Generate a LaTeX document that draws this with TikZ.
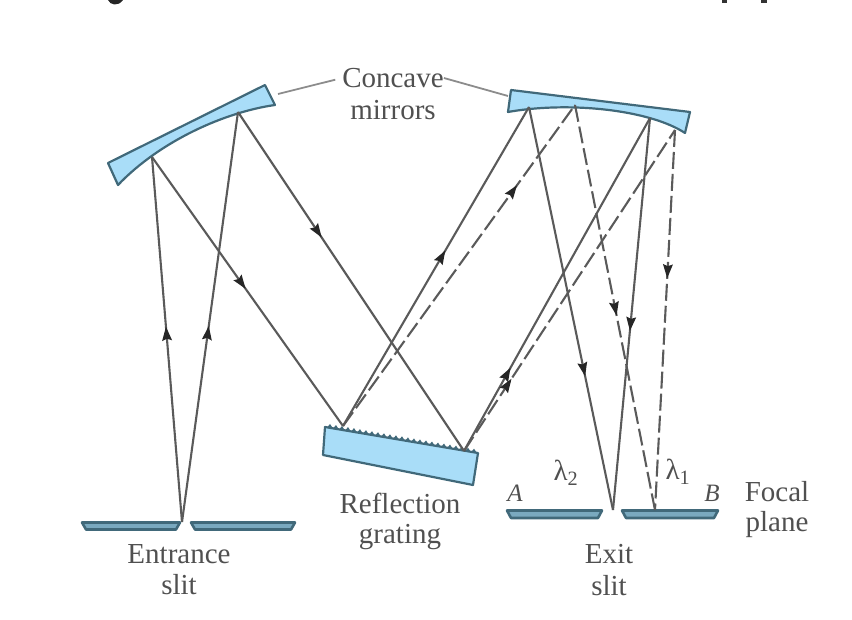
\documentclass[tikz,border=0pt]{standalone}
\usepackage{fontspec}
\setmainfont{Liberation Serif}
\usetikzlibrary{arrows.meta,decorations.markings}
\definecolor{mfill}{HTML}{A9DDF8}
\definecolor{mline}{HTML}{41697A}
\definecolor{ray}{HTML}{5A5A5A}
\definecolor{lab}{HTML}{505050}
\tikzset{
 x=1pt,y=-1pt,
 optic/.style={draw=mline,fill=mfill,line width=2.2pt,line join=round},
 slitbar/.style={draw=mline,fill=mfill!55!mline,line width=2.6pt,line join=round},
 beam/.style={draw=ray,line width=2.1pt},
 dbeam/.style={beam,dash pattern=on 17pt off 5pt},
 tip/.style={postaction={decorate},decoration={markings,mark=at position #1 with {\arrow[black!85,line width=0pt]{Stealth[length=14pt,width=10pt,inset=2pt]}}}},
 leader/.style={draw=black!45,line width=1.8pt},
 lbl/.style={text=lab,font=\fontsize{29}{32}\selectfont,inner sep=0pt,anchor=center},
 sym/.style={text=lab,font=\fontsize{25}{28}\selectfont\itshape,inner sep=0pt,anchor=center},
}
\begin{document}
\begin{tikzpicture}
\useasboundingbox (0,0) rectangle (852,620);
% heading fragments cut off at the top edge
\fill[black!85] (108,0) .. controls (110,5) and (118,7) .. (123,0) -- cycle;
\fill[black!80] (722,0) rectangle (727,3);
\fill[black!80] (761,0) rectangle (767,3);
% optics
\draw[optic] (108,163) -- (265,85) -- (275,105) .. controls (225,112) and (160,141) .. (118,185) -- cycle;
\draw[optic] (511,90) -- (690,112) -- (685,133) .. controls (650,110) and (570,101) .. (508,112) -- cycle;
\draw[optic] (325,427) -- (478,453) -- (473,485) -- (323,455) -- cycle;
\foreach \i in {0,...,24}{
  \pgfmathsetmacro\xa{327+\i*6}
  \pgfmathsetmacro\ya{427.5+\i*1.03}
  \fill[mline] (\xa,\ya) -- (\xa+3,\ya-3.5) -- (\xa+6,\ya+1) -- cycle;
}
\draw[slitbar] (82,522.5) -- (180,522.5) -- (176,529.5) -- (86,529.5) -- cycle;
\draw[slitbar] (191,522.5) -- (295,522.5) -- (291,529.5) -- (195,529.5) -- cycle;
\draw[slitbar] (507,510.5) -- (602,510.5) -- (598,518) -- (511,518) -- cycle;
\draw[slitbar] (622,510.5) -- (718,510.5) -- (714,518) -- (626,518) -- cycle;
% ray end points
\coordinate (ent) at (182,522);
\coordinate (m1a) at (152,157);
\coordinate (m1b) at (238,112);
\coordinate (g1) at (343,426);
\coordinate (g2) at (464,451);
\coordinate (m2a) at (529,107);
\coordinate (m2b) at (575,105);
\coordinate (m2c) at (650,118);
\coordinate (m2d) at (675,130);
\coordinate (ex) at (613,510);
\coordinate (f1) at (655,510);
% rays
\path[beam,tip=0.535] (ent) -- (m1a);
\path[beam,tip=0.478] (ent) -- (m1b);
\path[beam,tip=0.49] (m1a) -- (g1);
\path[beam,tip=0.37] (m1b) -- (g2);
\path[beam,tip=0.55] (g1) -- (m2a);
\path[dbeam,tip=0.75] (g1) -- (m2b);
\path[beam,tip=0.25] (g2) -- (m2c);
\path[dbeam,tip=0.225] (g2) -- (m2d);
\path[beam,tip=0.668] (m2a) -- (ex);
\path[dbeam,tip=0.52] (m2b) -- (f1);
\path[beam,tip=0.543] (m2c) -- (ex);
\path[dbeam,tip=0.39] (m2d) -- (f1);
% labels
\node[lbl] (conc) at (393,78) {Concave};
\node[lbl] (mirr) at (393,110) {mirrors};
\node[lbl] (refl) at (400,503) {Reflection};
\node[lbl] (grat) at (400,537) {grating};
\node[lbl] (entr) at (179,554) {Entrance};
\node[lbl] (sl1) at (179,585) {slit};
\node[lbl] (exit) at (609,554) {Exit};
\node[lbl] (sl2) at (609,586) {slit};
\node[lbl] (foc) at (777,492) {Focal};
\node[lbl] (pla) at (777,525) {plane};
\node[sym] (A) at (515,493) {A};
\node[sym] (B) at (712,493) {B};
\node[lbl] (l2) at (566,473) {λ\textsubscript{2}};
\node[lbl] (l1) at (678,472) {λ\textsubscript{1}};
% leaders
\coordinate (lmir) at (278,94);
\coordinate (rmir) at (508,96);
\draw[leader,shorten >=7pt] (lmir) -- (conc.west);
\draw[leader] (conc.east) -- (rmir);
\end{tikzpicture}
\end{document}
